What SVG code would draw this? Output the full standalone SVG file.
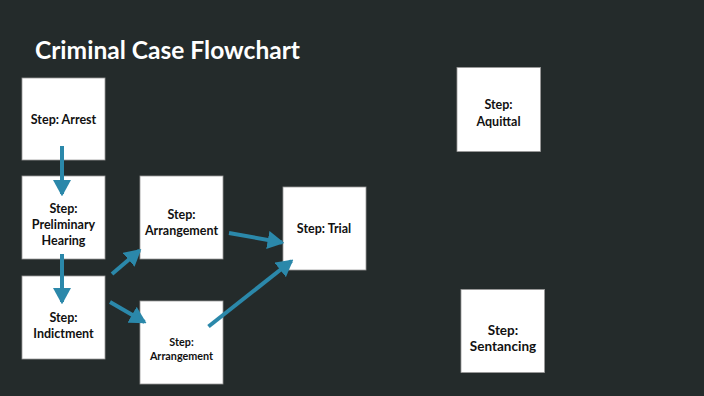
<svg xmlns="http://www.w3.org/2000/svg" width="704" height="396" viewBox="0 0 704 396">
<defs>
<style>
.box{fill:#ffffff;stroke:#9a9a9a;stroke-width:0.8}
.t{font-family:Lato,"Open Sans","Liberation Sans",sans-serif;font-weight:bold;fill:#111;text-anchor:middle;font-size:12.5px}
.title{font-family:Lato,"Open Sans","Liberation Sans",sans-serif;font-weight:bold;fill:#ffffff;font-size:24.5px}
.c{stroke:#2b88aa;stroke-width:4;fill:none;marker-end:url(#ah)}
</style>
<marker id="ah" markerWidth="4.2" markerHeight="4.6" refX="3.6" refY="2.3" orient="auto" markerUnits="strokeWidth">
<path d="M0,0 L4.2,2.3 L0,4.6 Z" fill="#2b88aa"/>
</marker>
</defs>
<rect width="704" height="396" fill="#242b2b"/>
<text class="title" x="35" y="59" textLength="265" lengthAdjust="spacingAndGlyphs">Criminal Case Flowchart</text>
<g id="arrest"><rect class="box" x="22" y="78" width="83" height="82"/><text class="t" x="63.5" y="124">Step: Arrest</text></g>
<g id="preliminary"><rect class="box" x="22" y="176" width="83" height="83"/><text class="t" x="63.5" y="213">Step:</text><text class="t" x="63.5" y="229">Preliminary</text><text class="t" x="63.5" y="244.5">Hearing</text></g>
<g id="indictment"><rect class="box" x="22" y="276" width="83" height="83"/><text class="t" x="63.5" y="322">Step:</text><text class="t" x="63.5" y="337.5">Indictment</text></g>
<g id="arrangement1"><rect class="box" x="140" y="176" width="83" height="83"/><text class="t" x="181.5" y="219">Step:</text><text class="t" x="181.5" y="235">Arrangement</text></g>
<g id="arrangement2"><rect class="box" x="140" y="301" width="83" height="83"/><text class="t" x="181.5" y="346" style="font-size:10.8px">Step:</text><text class="t" x="181.5" y="359.5" style="font-size:10.8px">Arrangement</text></g>
<g id="trial"><rect class="box" x="283" y="187" width="83" height="83"/><text class="t" x="324" y="233">Step: Trial</text></g>
<g id="aquittal"><rect class="box" x="457" y="67.5" width="83.5" height="84"/><text class="t" x="498.5" y="109">Step:</text><text class="t" x="498.5" y="125.5">Aquittal</text></g>
<g id="sentancing"><rect class="box" x="461" y="289.5" width="83.5" height="83"/><text class="t" x="503" y="335" style="font-size:13.5px">Step:</text><text class="t" x="503" y="350.5" style="font-size:13.5px">Sentancing</text></g>
<g id="connectors">
<line class="c" x1="62" y1="146" x2="62" y2="194"/>
<line class="c" x1="62" y1="254" x2="62" y2="302"/>
<line class="c" x1="112" y1="274" x2="139.5" y2="250.5"/>
<line class="c" x1="110" y1="302" x2="144.5" y2="322"/>
<line class="c" x1="229" y1="233" x2="282" y2="242.5"/>
<line class="c" x1="208.5" y1="326.5" x2="291.5" y2="261"/>
</g>
</svg>
